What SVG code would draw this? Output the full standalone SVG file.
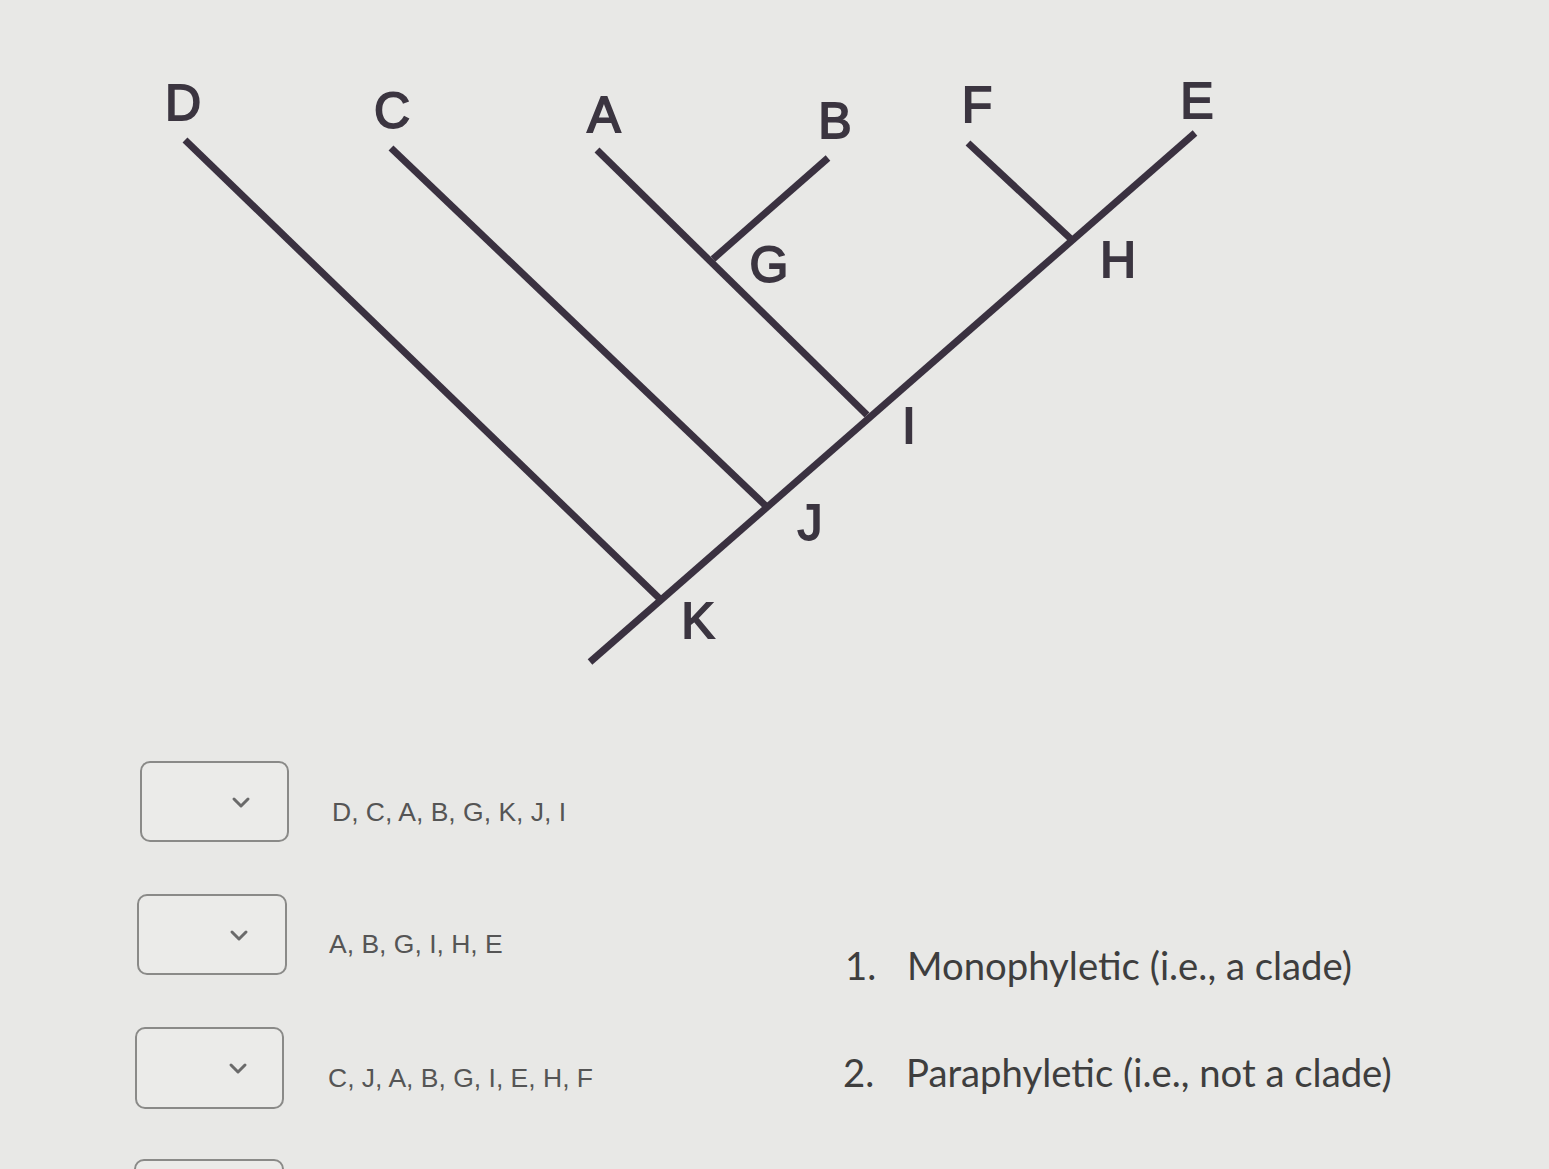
<svg xmlns="http://www.w3.org/2000/svg" width="1549" height="1169" viewBox="0 0 1549 1169">
<style>
.br{stroke:#3a3140;stroke-width:7;stroke-linecap:butt;fill:none}
.lb{font-family:"Liberation Sans",Arial,sans-serif;font-size:50px;fill:#3b3540;stroke:#3b3540;stroke-width:1.8;text-anchor:middle}
.box{fill:#ebebe9;stroke:#8a8a88;stroke-width:2}
.chev{fill:none;stroke:#6a6a6a;stroke-width:3;stroke-linecap:round;stroke-linejoin:round}
.opt{font-family:"Liberation Sans",Arial,sans-serif;font-size:26.5px;fill:#555}
.leg{font-family:Lato,"Open Sans",sans-serif;font-size:38.3px;fill:#3e3e3e}
</style>
<rect width="1549" height="1169" fill="#e8e8e6"/>
<g id="connectors">
<line class="br" x1="590" y1="662" x2="1195" y2="133"/>
<line class="br" x1="185" y1="140" x2="659" y2="598"/>
<line class="br" x1="391" y1="148" x2="767" y2="507"/>
<line class="br" x1="597" y1="150" x2="867" y2="415"/>
<line class="br" x1="828" y1="158" x2="713" y2="259"/>
<line class="br" x1="968" y1="143" x2="1071" y2="239"/>
</g>
<g id="node-D"><text class="lb" x="183" y="120">D</text></g>
<g id="node-C"><text class="lb" x="392" y="128">C</text></g>
<g id="node-A"><text class="lb" x="604" y="132">A</text></g>
<g id="node-B"><text class="lb" x="835" y="138">B</text></g>
<g id="node-F"><text class="lb" x="977" y="122">F</text></g>
<g id="node-E"><text class="lb" x="1197" y="118">E</text></g>
<g id="node-G"><text class="lb" x="769" y="282">G</text></g>
<g id="node-H"><text class="lb" x="1118" y="277">H</text></g>
<g id="node-I"><text class="lb" x="909" y="443">I</text></g>
<g id="node-J"><text class="lb" x="810" y="540">J</text></g>
<g id="node-K"><text class="lb" x="698" y="638">K</text></g>
<g id="dropdown-1">
<rect class="box" x="141" y="762" width="147" height="79" rx="9"/>
<polyline class="chev" points="234,799 241,806 248,799"/>
<text class="opt" x="332" y="821">D, C, A, B, G, K, J, I</text>
</g>
<g id="dropdown-2">
<rect class="box" x="138" y="895" width="148" height="79" rx="9"/>
<polyline class="chev" points="232,932 239,939 246,932"/>
<text class="opt" x="329" y="953">A, B, G, I, H, E</text>
</g>
<g id="dropdown-3">
<rect class="box" x="136" y="1028" width="147" height="80" rx="9"/>
<polyline class="chev" points="231,1065 238,1072 245,1065"/>
<text class="opt" x="328" y="1087">C, J, A, B, G, I, E, H, F</text>
</g>
<g id="dropdown-4">
<rect class="box" x="135" y="1160" width="148" height="80" rx="9"/>
</g>
<g id="legend">
<text class="leg" x="845" y="980">1.</text>
<text class="leg" x="907" y="980">Monophyletic (i.e., a clade)</text>
<text class="leg" x="843" y="1087">2.</text>
<text class="leg" x="906" y="1087">Paraphyletic (i.e., not a clade)</text>
</g>
</svg>
